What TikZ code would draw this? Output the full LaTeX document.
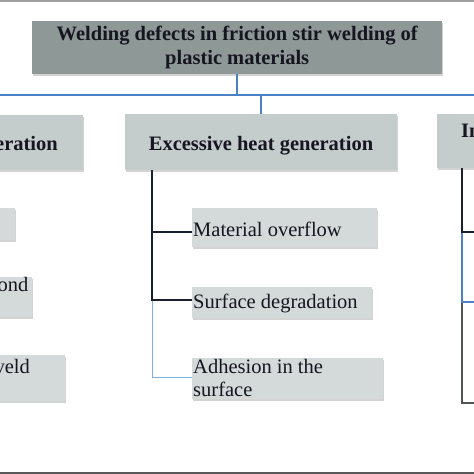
\documentclass[tikz,border=0pt]{standalone}
\usepackage{fontspec}
\setmainfont{Liberation Serif}
\usetikzlibrary{shadows}
\definecolor{titlefill}{HTML}{8E9896}
\definecolor{headfill}{HTML}{C5CCCC}
\definecolor{itemfill}{HTML}{D4D9D9}
\definecolor{linkblue}{HTML}{4A82C4}
\definecolor{lightblue}{HTML}{7FB0E2}
\definecolor{linkdark}{HTML}{1A1F2E}
\definecolor{linkgray}{HTML}{4E5552}
\definecolor{txt}{HTML}{15161F}
\tikzset{
  boxbase/.style={rectangle, inner sep=0pt, anchor=north west, text=txt,
    drop shadow={opacity=0.35, shadow xshift=1.2pt, shadow yshift=-1.6pt}},
  titlebox/.style={boxbase, fill=titlefill, font=\fontsize{20.5}{23.5}\selectfont\bfseries, align=center},
  headbox/.style={boxbase, fill=headfill},
  itembox/.style={boxbase, fill=itemfill},
  bigtxt/.style={inner sep=0pt, text=txt, font=\fontsize{20.5}{23.5}\selectfont},
  boldtxt/.style={bigtxt, font=\fontsize{20.5}{23.5}\selectfont\bfseries},
  itemtxt/.style={bigtxt, align=left, anchor=west},
  conn/.style={line width=1.1pt, linkblue},
  connblack/.style={line width=1.1pt, linkdark},
  connlight/.style={line width=1pt, lightblue},
  conngray/.style={line width=1.1pt, linkgray}
}
\begin{document}
\begin{tikzpicture}[x=1pt, y=-1pt]
\useasboundingbox (0,0) rectangle (474,474);
\clip (0,0) rectangle (474,474);
% frame bars
\fill[gray!75] (0,0) rectangle (474,2);
\fill[black!65] (0,472) rectangle (474,474);
% title
\node[titlebox, minimum width=410pt, minimum height=53pt] (title) at (32,21)
  {Welding defects in friction stir welding of\\plastic materials};
% headers
\node[headbox, minimum width=272pt, minimum height=55pt] (lefthead) at (-189,115) {};
\node[headbox, minimum width=272pt, minimum height=56pt] (midhead) at (125,114) {};
\node[headbox, minimum width=272pt, minimum height=54pt] (righthead) at (437,114) {};
\node[boldtxt, anchor=base east] (lefthtxt) at (58,150) {eration};
\node[boldtxt, anchor=base] (midhtxt) at (261,150) {Excessive heat generation};
\node[boldtxt, anchor=base west] (righthtxt) at (461,137) {In};
% left column items
\node[itembox, minimum width=60pt, minimum height=32pt] (l1) at (-45,208) {};
\node[itembox, minimum width=80pt, minimum height=40pt] (l2) at (-48,277) {};
\node[itembox, minimum width=110pt, minimum height=46pt] (l3) at (-45,355) {};
\node[bigtxt, anchor=base east] (l2txt) at (28.5,291) {ond};
\node[bigtxt, anchor=base east] (l3txt) at (30,373) {veld};
% middle column items
\node[itembox, minimum width=185pt, minimum height=39pt] (m1) at (192,208) {};
\node[itembox, minimum width=180pt, minimum height=31pt] (m2) at (192,287) {};
\node[itembox, minimum width=191pt, minimum height=41pt] (m3) at (192,358) {};
\node[itemtxt] (m1txt) at (193,229) {Material overflow};
\node[itemtxt] (m2txt) at (193,303) {Surface degradation};
\node[itemtxt] (m3txt) at (193,378) {Adhesion in the\\surface};
% connectors from title
\coordinate (hl) at (0,95);
\coordinate (hr) at (474,95);
\draw[conn] (hl) -- (hr);
\draw[conn] (title.south -| 237,0) -- (237,95);
\draw[conn] (261,95) -- (midhead.north -| 261,0);
% middle branches
\draw[connlight] (152,170) |- (m3.west |- 0,377);
\draw[connblack] (152,170) |- (m2.west |- 0,300);
\draw[connblack] (152,170) |- (m1.west |- 0,232);
% right branches
\coordinate (r1) at (474,232);
\coordinate (r2) at (474,302);
\coordinate (r3) at (474,403);
\draw[conngray] (462,302) |- (r3);
\draw[conn] (462,232) |- (r2);
\draw[connblack] (462,168) |- (r1);
\end{tikzpicture}
\end{document}
